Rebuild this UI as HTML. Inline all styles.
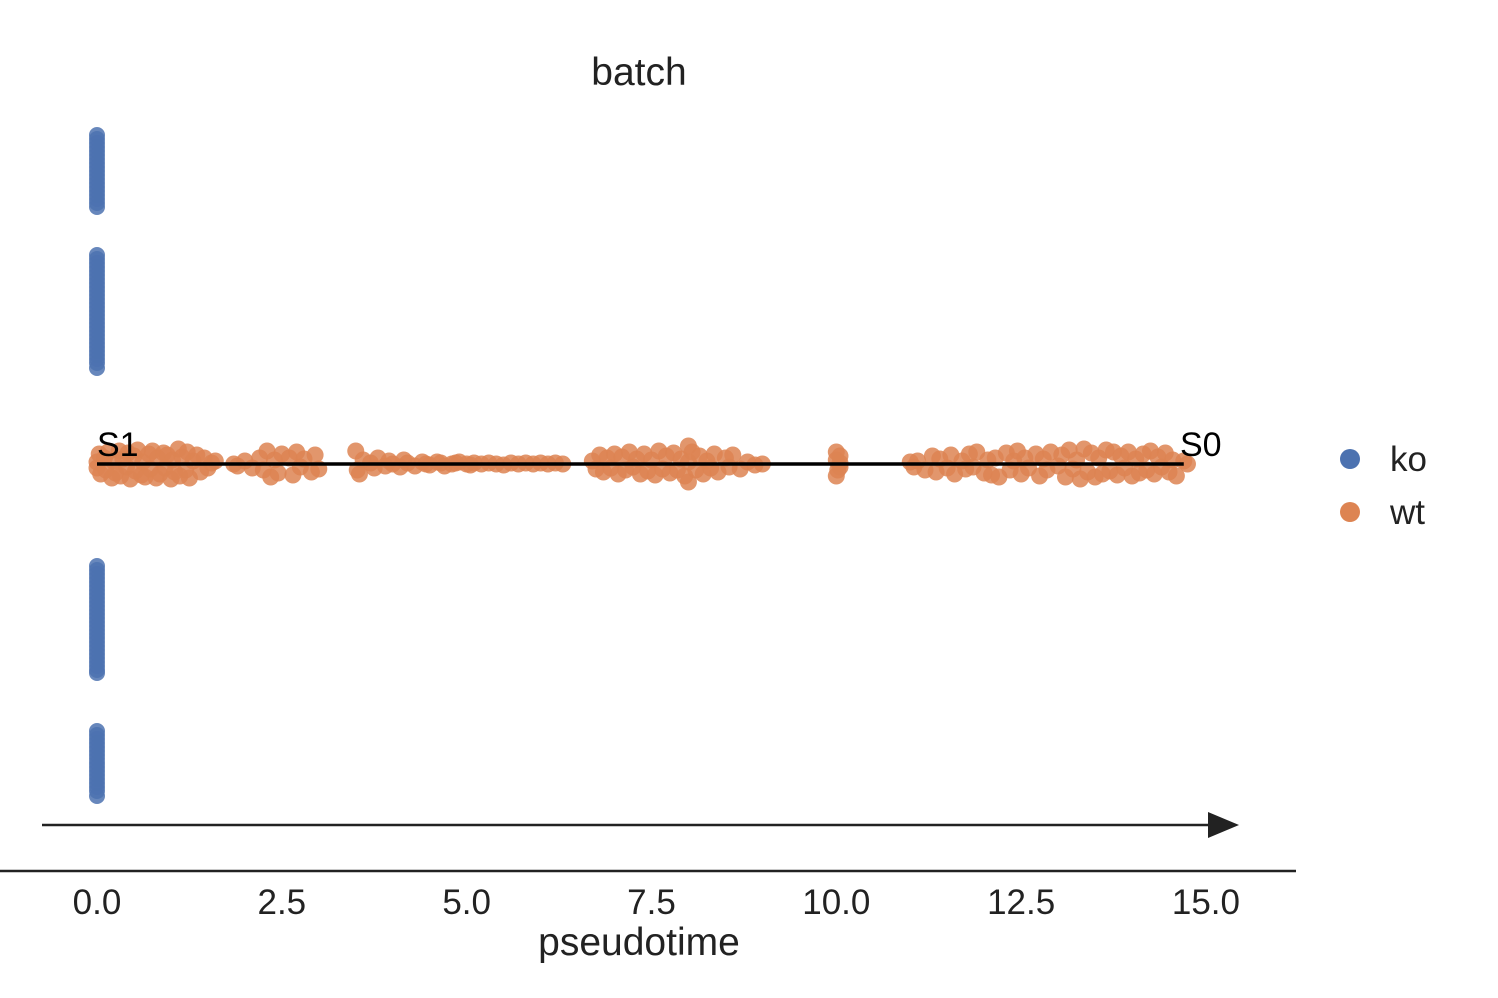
<!DOCTYPE html>
<html><head><meta charset="utf-8"><style>
html,body{margin:0;padding:0;background:#fff;}
svg{display:block;font-family:"Liberation Sans",Arial,sans-serif;}
</style></head><body>
<svg id="chart" width="1498" height="998" viewBox="0 0 1498 998"></svg>
<script>
// ---- data ----
const koY = [3.29,3.25,3.21,3.17,3.13,3.09,3.05,3.01,2.97,2.93,2.89,2.85,2.81,2.77,2.73,2.69,2.65,2.61,2.57,
 2.09,2.05,2.01,1.97,1.93,1.89,1.85,1.81,1.77,1.73,1.69,1.65,1.61,1.57,1.53,1.49,1.45,1.41,1.37,1.33,1.29,1.25,1.21,1.17,1.13,1.09,1.05,1.01,0.96,
 -1.02,-1.06,-1.1,-1.14,-1.18,-1.22,-1.26,-1.3,-1.34,-1.38,-1.42,-1.46,-1.5,-1.54,-1.58,-1.62,-1.66,-1.7,-1.74,-1.78,-1.82,-1.86,-1.9,-1.94,-1.98,-2.02,-2.06,-2.09,
 -2.67,-2.71,-2.75,-2.79,-2.83,-2.87,-2.91,-2.95,-2.99,-3.03,-3.07,-3.11,-3.15,-3.19,-3.23,-3.27,-3.32];
const wtT = [0.0,0.0,0.03,0.05,0.1,0.12,0.15,0.2,0.22,0.25,0.3,0.32,0.35,0.4,0.42,0.45,0.5,0.52,0.55,0.6,0.62,0.65,0.7,0.72,0.75,0.8,0.82,0.85,0.9,0.92,0.95,1.0,1.02,1.05,1.1,1.12,1.15,1.2,1.22,1.25,1.3,1.35,1.4,1.45,1.5,1.55,1.6,
 1.85,1.9,2.0,2.1,2.2,2.25,2.3,2.35,2.4,2.45,2.5,2.6,2.65,2.7,2.75,2.8,2.9,2.95,3.0,
 3.5,3.52,3.55,3.6,3.7,3.75,3.8,3.9,3.95,4.0,4.1,4.15,4.2,4.3,4.4,4.45,4.5,4.6,4.65,4.7,4.8,4.85,4.9,5.0,5.05,5.1,5.2,5.3,5.4,5.5,5.6,5.7,5.8,5.9,6.0,6.1,6.2,6.3,
 6.7,6.75,6.8,6.85,6.9,6.95,7.0,7.05,7.1,7.15,7.2,7.25,7.3,7.35,7.4,7.45,7.5,7.55,7.6,7.65,7.7,7.75,7.8,7.85,7.9,7.95,8.0,8.0,8.0,8.05,8.1,8.15,8.2,8.25,8.3,8.35,8.4,8.5,8.55,8.6,8.7,8.8,8.9,9.0,
 10.0,10.0,10.0,10.02,10.05,10.05,10.05,
 11.0,11.05,11.1,11.2,11.3,11.35,11.4,11.5,11.55,11.6,11.7,11.75,11.8,11.85,11.9,12.0,12.05,12.1,12.15,12.2,12.3,12.35,12.4,12.45,12.5,12.55,12.6,12.7,12.75,12.8,12.85,12.9,13.0,13.05,13.1,13.15,13.2,13.25,13.3,13.35,13.4,13.45,13.5,13.55,13.6,13.65,13.7,13.75,13.8,13.85,13.9,13.95,14.0,14.05,14.1,14.15,14.2,14.25,14.3,14.35,14.4,14.45,14.5,14.55,14.6,14.7,14.75];
const wtJ = [0.2,-0.4,1.0,-1.0,0.6,-0.6,1.2,-1.4,0.3,-0.9,1.3,-1.2,0.5,-0.3,1.1,-1.5,0.8,-0.7,1.4,-1.1,0.2,-1.3,1.0,-0.5,1.3,-1.4,0.6,-1.0,1.1,-0.4,0.9,-1.5,0.4,-0.8,1.5,-1.2,0.7,-0.6,1.2,-1.4,0.3,0.9,-0.8,0.6,-0.4,0.1,0.3,
 0.0,-0.2,0.3,-0.4,0.6,-0.6,1.3,-1.3,0.4,-0.9,1.0,0.6,-1.1,1.2,-0.3,0.5,-0.8,0.9,-0.5,
 1.3,-0.6,-1.0,0.4,0.1,-0.4,0.6,-0.2,0.3,0.0,-0.3,0.4,0.1,-0.2,0.2,0.0,-0.1,0.2,0.1,-0.2,0.0,0.1,0.2,0.0,-0.1,0.1,0.0,0.1,0.0,-0.1,0.1,0.0,0.1,0.0,0.1,0.0,0.1,0.0,
 0.3,-0.5,0.9,-0.8,0.6,-0.4,1.0,-1.0,0.7,-0.6,1.2,-0.3,0.5,-1.0,1.0,-0.7,0.4,-1.1,1.3,-0.5,0.8,-0.9,1.1,-0.6,0.5,-1.2,1.8,-1.8,0.2,1.2,-0.6,0.8,-1.0,0.3,-0.4,1.0,-0.8,0.6,-0.3,0.9,-0.5,0.2,-0.1,0.0,
 1.2,-1.2,0.4,-0.6,0.8,-0.3,0.1,
 0.2,-0.3,0.3,-0.6,0.8,-0.8,0.5,-0.4,0.9,-1.0,0.3,-0.5,1.0,-0.3,1.2,-0.9,0.4,-1.1,0.6,-1.3,1.1,-0.6,0.3,1.3,-1.0,0.6,-0.4,1.0,-1.2,0.5,-0.6,1.2,-0.2,0.9,-1.3,1.4,-0.5,0.4,-1.5,1.5,-0.8,1.1,-1.3,0.6,-1.0,1.4,-0.7,1.2,-1.1,0.8,-0.4,1.2,-1.2,0.5,-0.9,1.0,-0.6,1.3,-1.0,0.7,-0.3,1.1,-0.8,0.4,-1.2,0.3,0.0];
const xTicks = [0,2.5,5,7.5,10,12.5,15];
const xTickLabels = ["0.0","2.5","5.0","7.5","10.0","12.5","15.0"];

// ---- scales ----
const xS = v => 97 + v*73.93;
const yPix = v => 464 - v*100;
const NS="http://www.w3.org/2000/svg";
const svg=document.getElementById('chart');
function mk(tag,attrs,parent){const e=document.createElementNS(NS,tag);for(const k in attrs)e.setAttribute(k,attrs[k]);(parent||svg).appendChild(e);return e;}

let t=mk('text',{x:639,y:85,'text-anchor':'middle','font-size':39,fill:'#222'});t.textContent='batch';



const gKo=mk('g',{});


koY.forEach(v=>{const c=mk('circle',{cx:xS(0),cy:yPix(v),r:8,fill:'#4c72b0','fill-opacity':0.85},gKo);

});

const gWt=mk('g',{});


wtT.forEach((v,i)=>{const c=mk('circle',{cx:xS(v),cy:464-wtJ[i]*10,r:8.5,fill:'#dd8452','fill-opacity':0.85},gWt);

});

let ln=mk('line',{x1:xS(0),y1:464,x2:xS(14.7),y2:464,stroke:'#000','stroke-width':3.5});


t=mk('text',{x:97,y:456,'font-size':34,fill:'#000'});t.textContent='S1';


t=mk('text',{x:1180,y:456,'font-size':34,fill:'#000'});t.textContent='S0';



let ar=mk('line',{x1:42,y1:825,x2:1215,y2:825,stroke:'#222','stroke-width':2.5});


let ah=mk('polygon',{points:'1208,812 1239,825 1208,838',fill:'#222'});



let ax=mk('line',{x1:0,y1:871,x2:1296,y2:871,stroke:'#222','stroke-width':2.5});


xTicks.forEach((v,i)=>{const tt=mk('text',{x:xS(v),y:914,'text-anchor':'middle','font-size':35,fill:'#222'});tt.textContent=xTickLabels[i];

});
t=mk('text',{x:639,y:955,'text-anchor':'middle','font-size':39,fill:'#222'});t.textContent='pseudotime';



[['ko','#4c72b0',459],['wt','#dd8452',512]].forEach(([n,c,y])=>{
 const g=mk('g',{});
 
 
 mk('circle',{cx:1350,cy:y,r:10,fill:c},g);
 const tx=mk('text',{x:1390,y:y+12,'font-size':35,fill:'#222'},g);tx.textContent=n;
});
</script>
</body></html>
